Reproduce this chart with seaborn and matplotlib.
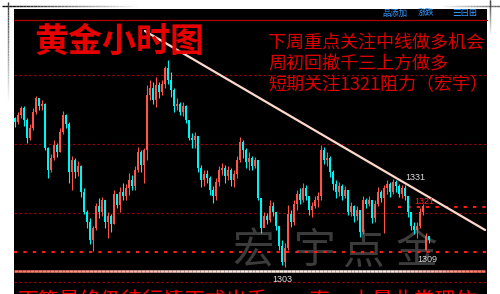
import numpy as np
import pandas as pd
import matplotlib
matplotlib.use("Agg")
import matplotlib.pyplot as plt
from matplotlib.collections import LineCollection
from matplotlib.lines import Line2D
import seaborn as sns

# ---------------- data (hourly gold candles, price units) ----------------
opens = [1348.9, 1347.7, 1349.8, 1351.9, 1348.3, 1342.9, 1345.9, 1350.7, 1354.9, 1352.5,
         1353.1, 1339.9, 1333.3, 1336.9, 1340.8, 1338.7, 1344.7, 1349.8, 1347.1, 1332.7,
         1336.3, 1332.7, 1334.5, 1326.7, 1320.7, 1317.7, 1312.3, 1315.9, 1322.5, 1320.7,
         1324.3, 1317.7, 1319.5, 1317.1, 1326.1, 1322.8, 1326.7, 1325.5, 1327.9, 1330.3,
         1328.5, 1333.3, 1338.7, 1334.8, 1339.3, 1355.8, 1357.9, 1354.3, 1358.8, 1356.7,
         1359.1, 1363.9, 1360.3, 1357.3, 1352.5, 1353.1, 1350.7, 1352.5, 1348.3, 1342.9,
         1342.3, 1343.5, 1333.9, 1330.3, 1332.1, 1330.9, 1327.3, 1325.5, 1329.7, 1333.3,
         1333.9, 1331.5, 1333.3, 1330.3, 1332.1, 1336.3, 1341.7, 1339.3, 1335.7, 1336.9,
         1334.5, 1336.3, 1324.9, 1315.9, 1319.5, 1318.3, 1322.5, 1320.7, 1316.5, 1310.5,
         1305.7, 1309.9, 1320.1, 1317.7, 1323.1, 1326.1, 1324.3, 1327.9, 1325.5, 1321.3,
         1322.5, 1324.3, 1325.5, 1339.3, 1336.3, 1336.9, 1332.7, 1329.1, 1326.7, 1328.5,
         1325.5, 1327.3, 1320.7, 1322.5, 1319.5, 1321.3, 1314.7, 1324.3, 1323.1, 1324.3,
         1318.9, 1323.1, 1326.7, 1324.9, 1327.9, 1329.1, 1326.7, 1329.7, 1328.5, 1326.1,
         1327.9, 1325.5, 1320.7, 1316.5, 1315.3, 1316.5, 1320.7, 1309.3, 1313.5]
highs = [1349.2, 1350.7, 1352.5, 1352.5, 1348.9, 1347.1, 1351.9, 1355.5, 1354.9, 1354.3,
         1353.4, 1340.2, 1338.1, 1342.3, 1341.4, 1345.9, 1351.0, 1350.1, 1347.7, 1337.5,
         1336.9, 1336.0, 1334.8, 1327.9, 1321.3, 1318.9, 1316.5, 1323.4, 1324.9, 1325.2,
         1324.3, 1320.7, 1320.1, 1327.3, 1325.8, 1328.2, 1329.4, 1329.1, 1332.4, 1331.8,
         1334.5, 1340.2, 1339.3, 1339.9, 1358.8, 1360.3, 1359.7, 1361.2, 1359.7, 1360.3,
         1364.5, 1366.3, 1362.7, 1357.9, 1354.9, 1353.7, 1353.7, 1352.8, 1348.3, 1344.4,
         1344.7, 1343.5, 1334.8, 1333.3, 1333.3, 1331.5, 1328.5, 1330.9, 1334.5, 1335.4,
         1334.8, 1334.5, 1333.9, 1333.3, 1337.5, 1343.2, 1342.3, 1339.9, 1338.7, 1337.5,
         1337.2, 1336.3, 1324.9, 1320.7, 1320.4, 1324.3, 1323.7, 1320.7, 1315.9, 1312.3,
         1311.4, 1322.8, 1321.3, 1324.3, 1327.3, 1327.9, 1329.4, 1328.8, 1325.5, 1323.7,
         1325.5, 1326.7, 1340.8, 1340.2, 1338.7, 1337.5, 1333.3, 1330.3, 1329.7, 1329.1,
         1328.5, 1327.3, 1323.7, 1322.8, 1322.5, 1321.3, 1325.5, 1324.9, 1325.5, 1324.3,
         1324.3, 1328.2, 1327.3, 1328.8, 1330.3, 1329.7, 1330.6, 1330.3, 1329.1, 1328.8,
         1328.8, 1325.5, 1320.7, 1317.7, 1317.7, 1321.9, 1323.1, 1314.4, 1313.5]
lows = [1346.2, 1347.1, 1348.9, 1346.5, 1341.4, 1342.3, 1345.3, 1350.1, 1351.3, 1351.3,
        1339.3, 1330.9, 1332.7, 1336.3, 1337.2, 1338.7, 1344.1, 1345.9, 1329.4, 1327.3,
        1330.9, 1331.5, 1325.2, 1320.1, 1315.9, 1311.1, 1309.0, 1315.3, 1318.9, 1319.5,
        1315.9, 1312.9, 1314.7, 1317.1, 1321.9, 1320.7, 1324.3, 1324.3, 1325.8, 1327.3,
        1327.3, 1332.7, 1332.7, 1329.4, 1336.3, 1354.3, 1353.1, 1352.2, 1354.9, 1355.8,
        1357.9, 1359.1, 1355.2, 1350.7, 1351.3, 1349.8, 1349.5, 1347.4, 1342.3, 1339.9,
        1339.9, 1332.7, 1328.2, 1328.5, 1329.4, 1325.8, 1323.4, 1324.3, 1328.5, 1331.8,
        1329.4, 1330.3, 1328.5, 1328.2, 1330.9, 1335.7, 1336.9, 1333.9, 1333.3, 1333.3,
        1333.9, 1324.3, 1314.4, 1317.7, 1317.1, 1317.7, 1319.5, 1315.3, 1309.3, 1304.8,
        1304.2, 1309.3, 1316.2, 1316.8, 1321.3, 1323.1, 1323.7, 1324.3, 1319.8, 1319.2,
        1321.9, 1322.2, 1324.3, 1335.1, 1334.5, 1331.2, 1327.3, 1324.9, 1325.5, 1324.3,
        1324.9, 1319.8, 1319.5, 1317.7, 1318.3, 1313.2, 1314.1, 1321.9, 1322.5, 1317.4,
        1317.7, 1322.5, 1323.7, 1314.4, 1326.1, 1325.2, 1326.1, 1326.7, 1325.2, 1324.9,
        1324.3, 1319.2, 1315.3, 1314.1, 1312.9, 1315.9, 1319.8, 1309.3, 1311.4]
closes = [1347.7, 1349.8, 1351.9, 1348.3, 1342.9, 1345.9, 1350.7, 1354.9, 1352.5, 1353.1,
          1339.9, 1333.3, 1336.9, 1340.8, 1338.7, 1344.7, 1349.8, 1347.1, 1332.7, 1336.3,
          1332.7, 1334.5, 1326.7, 1320.7, 1317.7, 1312.3, 1315.9, 1322.5, 1320.7, 1324.3,
          1317.7, 1319.5, 1317.1, 1326.1, 1322.8, 1326.7, 1325.5, 1327.9, 1330.3, 1328.5,
          1333.3, 1338.7, 1334.8, 1339.3, 1355.8, 1357.9, 1354.3, 1358.8, 1356.7, 1359.1,
          1363.9, 1360.3, 1357.3, 1352.5, 1353.1, 1350.7, 1352.5, 1348.3, 1342.9, 1342.3,
          1343.5, 1333.9, 1330.3, 1332.1, 1330.9, 1327.3, 1325.5, 1329.7, 1333.3, 1333.9,
          1331.5, 1333.3, 1330.3, 1332.1, 1336.3, 1341.7, 1339.3, 1335.7, 1336.9, 1334.5,
          1336.3, 1324.9, 1315.9, 1319.5, 1318.3, 1322.5, 1320.7, 1316.5, 1310.5, 1305.7,
          1309.9, 1320.1, 1317.7, 1323.1, 1326.1, 1324.3, 1327.9, 1325.5, 1321.3, 1322.5,
          1324.3, 1325.5, 1339.3, 1336.3, 1336.9, 1332.7, 1329.1, 1326.7, 1328.5, 1325.5,
          1327.3, 1320.7, 1322.5, 1319.5, 1321.3, 1314.7, 1324.3, 1323.1, 1324.3, 1318.9,
          1323.1, 1326.7, 1324.9, 1327.9, 1329.1, 1326.7, 1329.7, 1328.5, 1326.1, 1327.9,
          1325.5, 1320.7, 1316.5, 1315.3, 1316.5, 1320.7, 1322.5, 1313.5, 1312.3]

# trend line (bar index, price)
trend_x = [43.3, 156.7]
trend_y = [1375.0, 1315.3]

# horizontal levels
grid_levels = [1361.8, 1341.1, 1320.4, 1299.7]
support_1303 = 1303.0
support_1309 = 1308.7
resist_1321 = 1322.2
price_labels = ["1331", "1321", "1309", "1303"]

title = "黄金小时图"
notes = ["下周重点关注中线做多机会", "周初回撤千三上方做多", "短期关注1321阻力（宏宇）"]
watermark = ["宏", "宇", "点", "金"]
bottom_text = "下策最终仍待行情正式出手，一直一大量此常理依"

assert len(opens) == len(highs) == len(lows) == len(closes)

# ---------------- figure ----------------
sns.set_style("dark", {"axes.facecolor": "black", "figure.facecolor": "white"})
plt.rcParams['font.family'] = ['Noto Sans CJK SC', 'DejaVu Sans']

W, H = 500, 294
fig = plt.figure(figsize=(W / 100, H / 100), dpi=100)
fig.patch.set_facecolor("white")
ax = fig.add_axes([14 / W, 0, 473 / W, 285 / H])
ax.set_facecolor("black")

df = pd.DataFrame(dict(open=opens, high=highs, low=lows, close=closes))
df["idx"] = np.arange(len(df))
df["dir"] = np.where(df.close > df.open, "up", np.where(df.close < df.open, "down", "flat"))
palette = {"up": "#ff5548", "down": "#00f4f4", "flat": "#ffffff"}
cols = df["dir"].map(palette).tolist()

body_lo = np.minimum(df.open, df.close)
body_h = (df.close - df.open).abs().clip(lower=0.35)

# grid lines
for g in grid_levels:
    ax.axhline(g, color="#a00000", lw=0.8, ls=(0, (2.2, 2.2)), zorder=1)

# watermark
wm_x = [0.505, 0.636, 0.738, 0.85]
for ch, xx in zip(watermark, wm_x):
    ax.text(xx, 0.148, ch, transform=ax.transAxes, color="#3c3c3c", fontsize=30,
            ha="center", va="center", zorder=1.5)

# candles
ax.vlines(df.idx, df.low, df.high, colors=cols, lw=0.8, zorder=3)
ax.bar(df.idx, body_h, bottom=body_lo, width=0.75, color=cols, linewidth=0, zorder=3)

# trend line
sns.lineplot(x=trend_x, y=trend_y, ax=ax, color="#ffd8cc", lw=1.6, zorder=4)

# support / resistance
ax.axhline(support_1309, color="#ff1a1a", lw=1.5, ls=(0, (1.6, 2.9)), zorder=2)
ax.hlines(resist_1321, 127.7, 157.3, color="#ff1a1a", lw=1.5, ls=(0, (1.6, 2.9)), zorder=2)

# 1303 gradient solid line
xs = np.linspace(-0.33, 156.7, 120)
segs = [[(xs[i], support_1303), (xs[i + 1], support_1303)] for i in range(len(xs) - 1)]
c_edge = np.array([1.0, 0.45, 0.38])
c_mid = np.array([1.0, 0.92, 0.89])
t = np.linspace(0, 1, len(segs))
wgt = np.clip(np.where(t < 0.5, t / 0.45, (1 - t) / 0.2), 0, 1)[:, None]
seg_cols = c_edge * (1 - wgt) + c_mid * wgt
ax.add_collection(LineCollection(segs, colors=seg_cols, linewidths=1.8, zorder=2))

# price labels
ax.text(133.3, 1331.2, price_labels[0], color="#dddddd", fontsize=6.5,
        family="Liberation Sans", ha="center", va="center", zorder=5)
ax.text(136.3, 1323.9, price_labels[1], color="#ff2020", fontsize=6.5,
        family="Liberation Sans", ha="center", va="center", zorder=5)
ax.text(137.3, 1306.6, price_labels[2], color="#dddddd", fontsize=6.5,
        family="Liberation Sans", ha="center", va="center", zorder=5)
ax.text(89.0, 1300.6, price_labels[3], color="#dddddd", fontsize=6.5,
        family="Liberation Sans", ha="center", va="center", zorder=5)

ax.set_xlim(-0.333, 157.333)
ax.set_ylim(1296.1, 1381.6)
ax.set_xticks([])
ax.set_yticks([])
ax.grid(False)
for s in ax.spines.values():
    s.set_visible(False)

# header separator line
fig.add_artist(Line2D([14 / W, 487 / W], [1 - 19.5 / H] * 2, color="#b00000", lw=0.9))

# title and notes
fig.text(119 / W, 1 - 41 / H, title, color="#e80000", fontsize=24.5, fontweight="bold",
         ha="center", va="center")
for k, (line, yy) in enumerate(zip(notes, [44, 64.5, 85.5])):
    fig.text(268 / W, 1 - yy / H, line, color="#dd0000", fontsize=13,
             ha="left", va="center")

# top-right toolbar text
fig.text(382 / W, 1 - 13 / H, "品添加", color="#3399ff", fontsize=6, ha="left", va="center")
fig.text(418 / W, 1 - 13 / H, "涨跌", color="#3399ff", fontsize=6, ha="left", va="center")
fig.text(452 / W, 1 - 13.5 / H, "☰⊟⊞", color="#3399ff", fontsize=7, ha="left", va="center",
         family=["DejaVu Sans"])

# bottom (cut-off) text: only the top of the glyphs is visible
fig.text(18 / W, 1 - 301 / H, bottom_text, color="#ff0000", fontsize=15, ha="left",
         va="center")

# cursor marks on the white margin
def grad_line(x0, y0, x1, y1, c0, c1, n=40, lw=1.0):
    px = np.linspace(x0, x1, n + 1) / W
    py = 1 - np.linspace(y0, y1, n + 1) / H
    sg = [[(px[i], py[i]), (px[i + 1], py[i + 1])] for i in range(n)]
    cc = [np.array(c0) * (1 - f) + np.array(c1) * f for f in np.linspace(0, 1, n)]
    fig.add_artist(LineCollection(sg, colors=cc, linewidths=lw, transform=fig.transFigure))

grad_line(2, 5.5, 140, 5.5, (0, 0, 0), (1, 1, 1))
grad_line(8, 2, 8, 104, (0.2, 0.2, 0.2), (1, 1, 1))
grad_line(440, 5.5, 500, 5.5, (1, 1, 1), (0.3, 0.3, 0.3))
grad_line(490, 0, 490, 36, (0, 0, 0), (1, 1, 1))

fig.savefig("out.png", dpi=100, facecolor="white")
